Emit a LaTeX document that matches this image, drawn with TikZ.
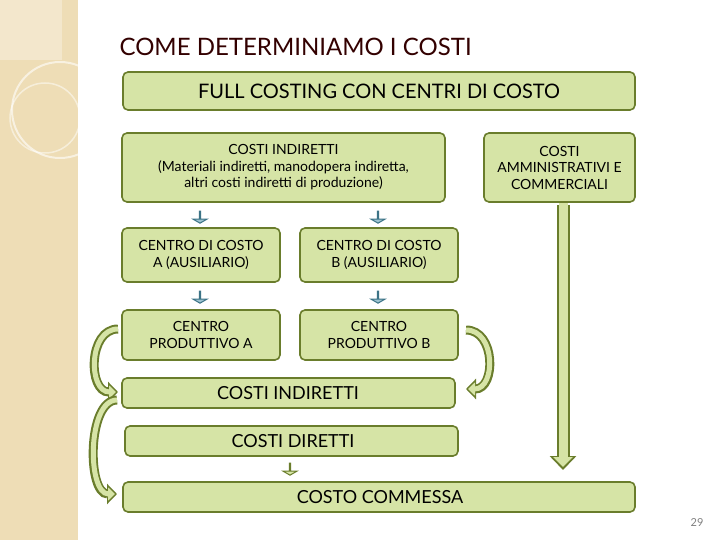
\documentclass[tikz,border=0pt]{standalone}
\usepackage{fontspec}
\setmainfont{Lato}
\usetikzlibrary{shapes.arrows,arrows.meta}
\definecolor{gfill}{HTML}{D6E4A6}
\definecolor{gline}{HTML}{6A7D2C}
\definecolor{bfill}{HTML}{9CC2CF}
\definecolor{bline}{HTML}{3C7386}
\definecolor{tan}{HTML}{EEDDB6}
\tikzset{
 box/.style={draw=gline,line width=1.6pt,fill=gfill,rounded corners=5pt,inner sep=0pt,align=center,font=\fontsize{14}{16.5}\selectfont},
 big/.style={font=\fontsize{18}{20}\selectfont},
 sarr/.style={single arrow,draw=bline,fill=bfill,line width=1pt,shape border rotate=270,minimum height=12pt,minimum width=14pt,single arrow head extend=5pt,single arrow tip angle=120,inner sep=0pt},
 garr/.style={sarr,draw=gline,fill=gfill},
 cout/.style={gline,line width=9pt,-{Triangle[width=20pt,length=10pt]}},
 cin/.style={gfill,line width=5pt,shorten >=2pt,-{Triangle[width=13pt,length=7pt]}}
}
\begin{document}
\begin{tikzpicture}[x=1pt,y=-1pt]
\useasboundingbox (0,0) rectangle (720,540);
\fill[white] (0,0) rectangle (720,540);
\fill[tan] (0,0) rectangle (78,540);
\draw[white,opacity=0.6,line width=2pt] (60,110) circle (48);
\draw[white,opacity=0.5,line width=1.5pt] (45,118) circle (35);
\fill[white,opacity=0.3] (0,0) rectangle (62,60);
\node[anchor=west,font=\fontsize{24}{27}\selectfont,text=black!80!red] (title) at (116,47) {COME DETERMINIAMO I COSTI};
\node[box,minimum width=512pt,minimum height=38pt,font=\fontsize{20}{22}\selectfont] (full) at (379,91) {FULL COSTING CON CENTRI DI COSTO};
\node[box,minimum width=323pt,minimum height=69pt] (ci) at (283.5,167.5) {COSTI INDIRETTI\\(Materiali indiretti, manodopera indiretta,\\altri costi indiretti di produzione)};
\node[box,minimum width=151pt,minimum height=69pt] (amm) at (559.5,167.5) {COSTI\\AMMINISTRATIVI E\\COMMERCIALI};
\node[box,minimum width=158pt,minimum height=54pt] (ca) at (201,255) {CENTRO DI COSTO\\A (AUSILIARIO)};
\node[box,minimum width=158pt,minimum height=54pt] (cb) at (379,255) {CENTRO DI COSTO\\B (AUSILIARIO)};
\node[box,minimum width=158pt,minimum height=50pt] (pa) at (201,335) {CENTRO\\PRODUTTIVO A};
\node[box,minimum width=158pt,minimum height=50pt] (pb) at (379,335) {CENTRO\\PRODUTTIVO B};
\node[box,minimum width=333pt,minimum height=30pt] (ind) at (288.5,393) {};
\node[big] (indt) at (288,393) {COSTI INDIRETTI};
\node[box,minimum width=333pt,minimum height=30pt] (dir) at (291.5,441) {};
\node[big] (dirt) at (293,441) {COSTI DIRETTI};
\node[box,minimum width=512pt,minimum height=30pt] (com) at (379,497) {};
\node[big] (comt) at (380,497) {COSTO COMMESSA};
\node[sarr] (a1) at (200,217) {};
\node[sarr] (a2) at (378,217) {};
\node[sarr] (a3) at (200,297) {};
\node[sarr] (a4) at (378,297) {};
\node[garr] (a5) at (290,469) {};
\coordinate (vs) at (563,205);
\coordinate (ve) at (563,470);
\draw[gline,line width=13pt,-{Triangle[width=26pt,length=14pt]}] (vs) -- (ve);
\draw[gfill,line width=9pt,shorten >=3pt,-{Triangle[width=19pt,length=10pt]}] ([yshift=1.5pt]vs) -- (ve);
\coordinate (l1s) at (118,329); \coordinate (l1e) at (118,392);
\coordinate (l2s) at (117,400); \coordinate (l2e) at (117,494);
\coordinate (r1s) at (466,330); \coordinate (r1e) at (466,389);
\foreach \s/\e in {l1s/l1e, l2s/l2e}{
 \draw[cout] (\s) .. controls +(-30,0) and +(-30,0) .. (\e);
 \draw[cin] (\s) .. controls +(-30,0) and +(-30,0) .. (\e);}
\draw[cout] (r1s) .. controls +(30,0) and +(30,0) .. (r1e);
\draw[cin] (r1s) .. controls +(30,0) and +(30,0) .. (r1e);
\node[text=gray,font=\fontsize{11}{12}\selectfont] (pg) at (697,523) {29};
\end{tikzpicture}
\end{document}
